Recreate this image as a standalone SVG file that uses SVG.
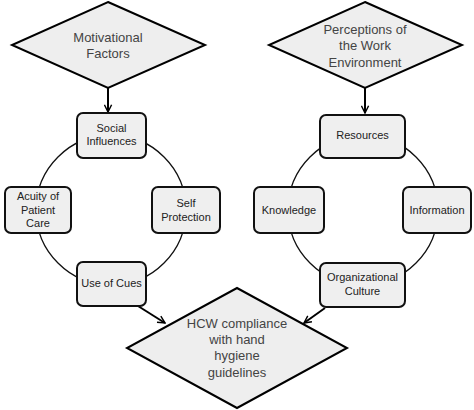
<svg xmlns="http://www.w3.org/2000/svg" width="474" height="410" viewBox="0 0 474 410">
<defs>
<marker id="ah" viewBox="0 0 10 10" refX="9" refY="5" markerWidth="9" markerHeight="9" markerUnits="userSpaceOnUse" orient="auto">
<path d="M1,1 L9,5 L1,9" fill="none" stroke="#000" stroke-width="1.6"/>
</marker>
<style>
.dia{fill:#eeeeee;stroke:#000;stroke-width:2}
.box{fill:#efefef;stroke:#111;stroke-width:2}
.ring{fill:none;stroke:#111;stroke-width:1.3}
.dt{font-family:"Liberation Sans",Arial,sans-serif;font-size:13px;fill:#444;text-anchor:middle}
.bt{font-family:"Liberation Sans",Arial,sans-serif;font-size:11px;fill:#222;text-anchor:middle}
.con{stroke:#000;stroke-width:2;fill:none;marker-end:url(#ah)}
</style>
</defs>
<rect width="474" height="410" fill="#fff"/>
<g id="rings">
<circle class="ring" cx="111" cy="210" r="75"/>
<circle class="ring" cx="363" cy="210" r="75"/>
</g>
<g id="connectors">
<line class="con" x1="108" y1="88" x2="108" y2="112"/>
<line class="con" x1="365" y1="88" x2="365" y2="113"/>
<line class="con" x1="138" y1="306" x2="165" y2="323"/>
<line class="con" x1="325" y1="308" x2="304" y2="323"/>
</g>
<g id="motivational">
<polygon class="dia" points="108,2 205,45 108,88 12,45"/>
<text class="dt" x="108" y="41.5">Motivational</text>
<text class="dt" x="108" y="57.5">Factors</text>
</g>
<g id="perceptions">
<polygon class="dia" points="365,2 462,45 365,88 269,45"/>
<text class="dt" x="365" y="33.5">Perceptions of</text>
<text class="dt" x="365" y="50">the Work</text>
<text class="dt" x="365" y="66.5">Environment</text>
</g>
<g id="social">
<rect class="box" x="77" y="113" width="69" height="45" rx="6"/>
<text class="bt" x="111.5" y="132">Social</text>
<text class="bt" x="111.5" y="145">Influences</text>
</g>
<g id="acuity">
<rect class="box" x="5" y="187" width="66" height="46" rx="6"/>
<text class="bt" x="38" y="200">Acuity of</text>
<text class="bt" x="38" y="213.5">Patient</text>
<text class="bt" x="38" y="227">Care</text>
</g>
<g id="selfprotection">
<rect class="box" x="152" y="187" width="68" height="46" rx="6"/>
<text class="bt" x="186" y="207">Self</text>
<text class="bt" x="186" y="221">Protection</text>
</g>
<g id="cues">
<rect class="box" x="77" y="262" width="69" height="44" rx="6"/>
<text class="bt" x="111.5" y="287">Use of Cues</text>
</g>
<g id="resources">
<rect class="box" x="320" y="115" width="85" height="43" rx="6"/>
<text class="bt" x="362.5" y="139">Resources</text>
</g>
<g id="knowledge">
<rect class="box" x="254" y="187" width="70" height="46" rx="6"/>
<text class="bt" x="289" y="214">Knowledge</text>
</g>
<g id="information">
<rect class="box" x="403" y="187" width="68" height="46" rx="6"/>
<text class="bt" x="437" y="214">Information</text>
</g>
<g id="culture">
<rect class="box" x="320" y="263" width="85" height="44" rx="6"/>
<text class="bt" x="362.5" y="281">Organizational</text>
<text class="bt" x="362.5" y="295">Culture</text>
</g>
<g id="compliance">
<polygon class="dia" points="237,288 347,348 237,408 127,348"/>
<text class="dt" x="237" y="327.5">HCW compliance</text>
<text class="dt" x="237" y="344">with hand</text>
<text class="dt" x="237" y="360">hygiene</text>
<text class="dt" x="237" y="376.5">guidelines</text>
</g>
</svg>
